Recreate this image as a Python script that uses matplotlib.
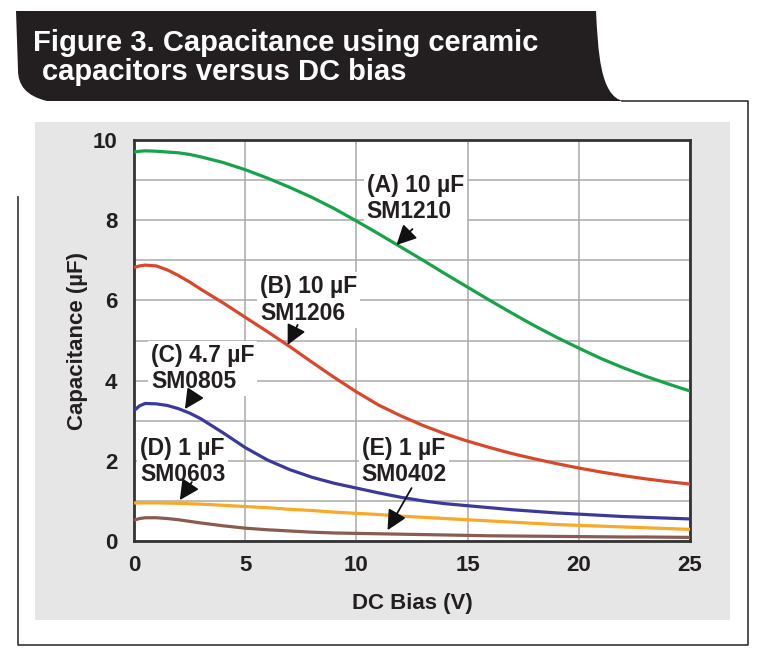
import matplotlib
matplotlib.use("Agg")
import matplotlib.pyplot as plt
from matplotlib.path import Path
from matplotlib.patches import PathPatch, Rectangle

# data
bias_v = [0, 0.25, 0.5, 1, 1.5, 2, 2.5, 3, 4, 5, 6, 7, 8, 9, 10, 11, 12, 13, 14, 15,
          16, 17, 18, 19, 20, 21, 22, 23, 24, 25]
cap_a = [9.70, 9.72, 9.73, 9.72, 9.70, 9.68, 9.64, 9.58, 9.44, 9.26, 9.05, 8.82, 8.57, 8.29,
         7.98, 7.66, 7.33, 7.00, 6.66, 6.33, 6.00, 5.68, 5.37, 5.08, 4.81, 4.55, 4.32, 4.11,
         3.92, 3.74]
cap_b = [6.82, 6.86, 6.88, 6.86, 6.76, 6.62, 6.46, 6.28, 5.94, 5.58, 5.22, 4.85, 4.46, 4.08,
         3.72, 3.39, 3.12, 2.88, 2.67, 2.49, 2.33, 2.18, 2.05, 1.93, 1.82, 1.72, 1.63, 1.55,
         1.48, 1.42]
cap_c = [3.25, 3.37, 3.43, 3.42, 3.38, 3.30, 3.19, 3.05, 2.70, 2.33, 2.02, 1.78, 1.59, 1.44,
         1.32, 1.20, 1.09, 1.00, 0.93, 0.88, 0.83, 0.78, 0.74, 0.70, 0.67, 0.64, 0.61, 0.59,
         0.57, 0.55]
cap_d = [0.95, 0.95, 0.95, 0.95, 0.945, 0.94, 0.93, 0.92, 0.89, 0.86, 0.83, 0.79, 0.76, 0.72,
         0.69, 0.66, 0.62, 0.59, 0.56, 0.53, 0.50, 0.47, 0.44, 0.41, 0.39, 0.37, 0.35, 0.33,
         0.31, 0.29]
cap_e = [0.52, 0.56, 0.58, 0.58, 0.56, 0.53, 0.49, 0.45, 0.38, 0.32, 0.28, 0.25, 0.22, 0.20,
         0.19, 0.18, 0.17, 0.16, 0.15, 0.14, 0.13, 0.125, 0.12, 0.115, 0.11, 0.105, 0.10, 0.10,
         0.095, 0.09]

labels = ["(A) 10 \u00b5F\nSM1210", "(B) 10 \u00b5F\nSM1206", "(C) 4.7 \u00b5F\nSM0805",
          "(D) 1 \u00b5F\nSM0603", "(E) 1 \u00b5F\nSM0402"]
colors = ["#17a34a", "#d9482b", "#3b3a9c", "#f8a925", "#8a5b50"]
title_lines = ["Figure 3. Capacitance using ceramic", "capacitors versus DC bias"]

plt.rcParams['font.family'] = ['Liberation Sans', 'DejaVu Sans']
plt.rcParams['font.weight'] = 'bold'

W, H = 768, 661
fig = plt.figure(figsize=(W / 100, H / 100), dpi=100)

# background: banner, grey panel, frame (pixel coords)
bg = fig.add_axes([0, 0, 1, 1], zorder=0)
bg.set_xlim(0, W)
bg.set_ylim(H, 0)
bg.axis("off")

verts = [(16, 11), (596, 11),
         (598, 50), (600, 96), (623, 101),
         (47, 101),
         (26, 96), (18, 85), (18, 70),
         (16, 11)]
codes = [Path.MOVETO, Path.LINETO,
         Path.CURVE4, Path.CURVE4, Path.CURVE4,
         Path.LINETO,
         Path.CURVE4, Path.CURVE4, Path.CURVE4,
         Path.CLOSEPOLY]
bg.add_patch(PathPatch(Path(verts, codes), facecolor="#231f20", edgecolor="none"))
bg.text(33, 51, title_lines[0], color="white", fontsize=21, fontweight="bold",
        va="baseline", ha="left")
bg.text(42, 80, title_lines[1], color="white", fontsize=21, fontweight="bold",
        va="baseline", ha="left")

bg.plot([622, 748, 748, 18, 18], [101, 101, 645, 645, 197], color="#333333", lw=1.2)
bg.add_patch(Rectangle((35, 122), 695, 498, facecolor="#e6e6e6", edgecolor="none"))

# chart
ax = fig.add_axes([134 / W, 1 - 541 / H, 556 / W, 401 / H], zorder=1)
ax.set_facecolor("white")
series = [cap_a, cap_b, cap_c, cap_d, cap_e]
for vals, c in zip(series, colors):
    ax.plot(bias_v, vals, color=c, lw=2.3, zorder=3, solid_capstyle="butt")

ax.set_xlim(0, 25)
ax.set_ylim(0, 10)
ax.set_xticks([0, 5, 10, 15, 20, 25])
ax.set_yticks([0, 2, 4, 6, 8, 10])
ax.set_yticks(range(1, 10, 2), minor=True)
ax.grid(True, which="both", color="#a9a9a9", lw=1.1, zorder=1)
ax.set_axisbelow(True)
ax.tick_params(which="both", length=0, labelsize=16, colors="#231f20")
ax.tick_params(axis="x", pad=10)
ax.tick_params(axis="y", pad=12)
for s in ax.spines.values():
    s.set_linewidth(2)
    s.set_color("#333333")
ax.set_xlabel("DC Bias (V)", fontsize=16, fontweight="bold", color="#231f20", labelpad=12)
ax.set_ylabel("Capacitance (\u00b5F)", fontsize=16, fontweight="bold", color="#231f20", labelpad=3)

# callouts: text position, arrow start, arrow tip
text_pos = [(10.46, 8.54), (5.66, 6.01), (0.76, 4.30), (0.27, 1.98), (10.23, 1.98)]
arrow_from = [(12.52, 7.78), (7.36, 5.39), (2.74, 3.67), (2.6, 1.47), (12.48, 1.32)]
arrow_to = [(11.8, 7.38), (6.91, 4.89), (2.29, 3.29), (2.06, 1.02), (11.4, 0.27)]
for lab, tp, af, at in zip(labels, text_pos, arrow_from, arrow_to):
    ax.text(tp[0], tp[1], lab, fontsize=16.5, fontweight="bold", color="#231f20",
            ha="left", va="center", linespacing=1.2, zorder=2,
            bbox=dict(facecolor="white", edgecolor="none", pad=2))
    ax.annotate("", xy=at, xytext=af, zorder=5,
                arrowprops=dict(arrowstyle="-|>,head_length=0.6,head_width=0.3",
                                color="#111111", lw=1.3, mutation_scale=20,
                                shrinkA=0, shrinkB=0))

fig.savefig("out.png", dpi=100)
